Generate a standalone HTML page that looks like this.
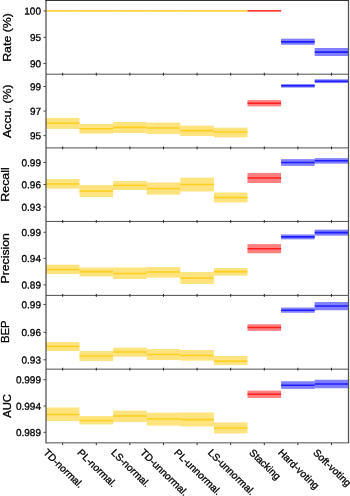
<!DOCTYPE html><html><head><meta charset="utf-8"><title>Ensemble comparison</title><style>html,body{margin:0;padding:0;background:#fff}svg{display:block}text{font-family:"Liberation Sans",Arial,Helvetica,sans-serif;fill:#000;stroke:#000;stroke-width:0.3px}</style></head><body>
<svg width="350" height="496" viewBox="0 0 350 496">
<rect width="350" height="496" fill="#fff"/>
<line x1="45.90" y1="10.90" x2="79.50" y2="10.90" stroke="#FFC800" stroke-opacity="0.76" stroke-width="1.6"/>
<line x1="79.50" y1="10.90" x2="113.10" y2="10.90" stroke="#FFC800" stroke-opacity="0.76" stroke-width="1.6"/>
<line x1="113.10" y1="10.90" x2="146.70" y2="10.90" stroke="#FFC800" stroke-opacity="0.76" stroke-width="1.6"/>
<line x1="146.70" y1="10.90" x2="180.30" y2="10.90" stroke="#FFC800" stroke-opacity="0.76" stroke-width="1.6"/>
<line x1="180.30" y1="10.90" x2="213.90" y2="10.90" stroke="#FFC800" stroke-opacity="0.76" stroke-width="1.6"/>
<line x1="213.90" y1="10.90" x2="247.50" y2="10.90" stroke="#FFC800" stroke-opacity="0.76" stroke-width="1.6"/>
<line x1="247.50" y1="10.90" x2="281.10" y2="10.90" stroke="#FF0000" stroke-opacity="0.76" stroke-width="1.6"/>
<rect x="281.10" y="38.70" width="33.60" height="6.10" fill="#0000FF" fill-opacity="0.5"/>
<line x1="281.10" y1="41.85" x2="314.70" y2="41.85" stroke="#0000FF" stroke-opacity="0.76" stroke-width="1.6"/>
<rect x="314.70" y="48.00" width="33.60" height="8.00" fill="#0000FF" fill-opacity="0.5"/>
<line x1="314.70" y1="52.10" x2="348.30" y2="52.10" stroke="#0000FF" stroke-opacity="0.76" stroke-width="1.6"/>
<rect x="45.90" y="117.80" width="33.60" height="11.10" fill="#FFC800" fill-opacity="0.5"/>
<line x1="45.90" y1="123.30" x2="79.50" y2="123.30" stroke="#FFC800" stroke-opacity="0.76" stroke-width="1.6"/>
<rect x="79.50" y="124.00" width="33.60" height="9.60" fill="#FFC800" fill-opacity="0.5"/>
<line x1="79.50" y1="128.70" x2="113.10" y2="128.70" stroke="#FFC800" stroke-opacity="0.76" stroke-width="1.6"/>
<rect x="113.10" y="122.00" width="33.60" height="11.00" fill="#FFC800" fill-opacity="0.5"/>
<line x1="113.10" y1="127.40" x2="146.70" y2="127.40" stroke="#FFC800" stroke-opacity="0.76" stroke-width="1.6"/>
<rect x="146.70" y="122.60" width="33.60" height="11.40" fill="#FFC800" fill-opacity="0.5"/>
<line x1="146.70" y1="128.00" x2="180.30" y2="128.00" stroke="#FFC800" stroke-opacity="0.76" stroke-width="1.6"/>
<rect x="180.30" y="125.60" width="33.60" height="10.40" fill="#FFC800" fill-opacity="0.5"/>
<line x1="180.30" y1="130.60" x2="213.90" y2="130.60" stroke="#FFC800" stroke-opacity="0.76" stroke-width="1.6"/>
<rect x="213.90" y="127.60" width="33.60" height="9.80" fill="#FFC800" fill-opacity="0.5"/>
<line x1="213.90" y1="132.00" x2="247.50" y2="132.00" stroke="#FFC800" stroke-opacity="0.76" stroke-width="1.6"/>
<rect x="247.50" y="100.10" width="33.60" height="6.20" fill="#FF0000" fill-opacity="0.5"/>
<line x1="247.50" y1="103.30" x2="281.10" y2="103.30" stroke="#FF0000" stroke-opacity="0.76" stroke-width="1.6"/>
<rect x="281.10" y="84.10" width="33.60" height="3.50" fill="#0000FF" fill-opacity="0.5"/>
<line x1="281.10" y1="85.80" x2="314.70" y2="85.80" stroke="#0000FF" stroke-opacity="0.76" stroke-width="1.6"/>
<rect x="314.70" y="79.30" width="33.60" height="3.80" fill="#0000FF" fill-opacity="0.5"/>
<line x1="314.70" y1="81.20" x2="348.30" y2="81.20" stroke="#0000FF" stroke-opacity="0.76" stroke-width="1.6"/>
<rect x="45.90" y="179.05" width="33.60" height="9.60" fill="#FFC800" fill-opacity="0.5"/>
<line x1="45.90" y1="184.05" x2="79.50" y2="184.05" stroke="#FFC800" stroke-opacity="0.76" stroke-width="1.6"/>
<rect x="79.50" y="185.05" width="33.60" height="12.00" fill="#FFC800" fill-opacity="0.5"/>
<line x1="79.50" y1="191.05" x2="113.10" y2="191.05" stroke="#FFC800" stroke-opacity="0.76" stroke-width="1.6"/>
<rect x="113.10" y="181.05" width="33.60" height="9.00" fill="#FFC800" fill-opacity="0.5"/>
<line x1="113.10" y1="185.45" x2="146.70" y2="185.45" stroke="#FFC800" stroke-opacity="0.76" stroke-width="1.6"/>
<rect x="146.70" y="182.45" width="33.60" height="12.20" fill="#FFC800" fill-opacity="0.5"/>
<line x1="146.70" y1="188.45" x2="180.30" y2="188.45" stroke="#FFC800" stroke-opacity="0.76" stroke-width="1.6"/>
<rect x="180.30" y="177.65" width="33.60" height="13.80" fill="#FFC800" fill-opacity="0.5"/>
<line x1="180.30" y1="184.45" x2="213.90" y2="184.45" stroke="#FFC800" stroke-opacity="0.76" stroke-width="1.6"/>
<rect x="213.90" y="192.45" width="33.60" height="10.00" fill="#FFC800" fill-opacity="0.5"/>
<line x1="213.90" y1="197.45" x2="247.50" y2="197.45" stroke="#FFC800" stroke-opacity="0.76" stroke-width="1.6"/>
<rect x="247.50" y="172.95" width="33.60" height="10.00" fill="#FF0000" fill-opacity="0.5"/>
<line x1="247.50" y1="178.05" x2="281.10" y2="178.05" stroke="#FF0000" stroke-opacity="0.76" stroke-width="1.6"/>
<rect x="281.10" y="159.15" width="33.60" height="6.70" fill="#0000FF" fill-opacity="0.5"/>
<line x1="281.10" y1="162.55" x2="314.70" y2="162.55" stroke="#0000FF" stroke-opacity="0.76" stroke-width="1.6"/>
<rect x="314.70" y="158.15" width="33.60" height="5.50" fill="#0000FF" fill-opacity="0.5"/>
<line x1="314.70" y1="160.75" x2="348.30" y2="160.75" stroke="#0000FF" stroke-opacity="0.76" stroke-width="1.6"/>
<rect x="45.90" y="264.65" width="33.60" height="9.40" fill="#FFC800" fill-opacity="0.5"/>
<line x1="45.90" y1="269.45" x2="79.50" y2="269.45" stroke="#FFC800" stroke-opacity="0.76" stroke-width="1.6"/>
<rect x="79.50" y="267.45" width="33.60" height="9.00" fill="#FFC800" fill-opacity="0.5"/>
<line x1="79.50" y1="271.65" x2="113.10" y2="271.65" stroke="#FFC800" stroke-opacity="0.76" stroke-width="1.6"/>
<rect x="113.10" y="267.45" width="33.60" height="11.60" fill="#FFC800" fill-opacity="0.5"/>
<line x1="113.10" y1="273.45" x2="146.70" y2="273.45" stroke="#FFC800" stroke-opacity="0.76" stroke-width="1.6"/>
<rect x="146.70" y="267.05" width="33.60" height="10.60" fill="#FFC800" fill-opacity="0.5"/>
<line x1="146.70" y1="272.05" x2="180.30" y2="272.05" stroke="#FFC800" stroke-opacity="0.76" stroke-width="1.6"/>
<rect x="180.30" y="272.05" width="33.60" height="12.00" fill="#FFC800" fill-opacity="0.5"/>
<line x1="180.30" y1="278.05" x2="213.90" y2="278.05" stroke="#FFC800" stroke-opacity="0.76" stroke-width="1.6"/>
<rect x="213.90" y="268.05" width="33.60" height="7.60" fill="#FFC800" fill-opacity="0.5"/>
<line x1="213.90" y1="271.65" x2="247.50" y2="271.65" stroke="#FFC800" stroke-opacity="0.76" stroke-width="1.6"/>
<rect x="247.50" y="244.15" width="33.60" height="9.10" fill="#FF0000" fill-opacity="0.5"/>
<line x1="247.50" y1="248.75" x2="281.10" y2="248.75" stroke="#FF0000" stroke-opacity="0.76" stroke-width="1.6"/>
<rect x="281.10" y="234.45" width="33.60" height="4.90" fill="#0000FF" fill-opacity="0.5"/>
<line x1="281.10" y1="236.85" x2="314.70" y2="236.85" stroke="#0000FF" stroke-opacity="0.76" stroke-width="1.6"/>
<rect x="314.70" y="229.65" width="33.60" height="6.00" fill="#0000FF" fill-opacity="0.5"/>
<line x1="314.70" y1="232.65" x2="348.30" y2="232.65" stroke="#0000FF" stroke-opacity="0.76" stroke-width="1.6"/>
<rect x="45.90" y="342.05" width="33.60" height="9.00" fill="#FFC800" fill-opacity="0.5"/>
<line x1="45.90" y1="346.45" x2="79.50" y2="346.45" stroke="#FFC800" stroke-opacity="0.76" stroke-width="1.6"/>
<rect x="79.50" y="351.05" width="33.60" height="10.00" fill="#FFC800" fill-opacity="0.5"/>
<line x1="79.50" y1="356.05" x2="113.10" y2="356.05" stroke="#FFC800" stroke-opacity="0.76" stroke-width="1.6"/>
<rect x="113.10" y="347.65" width="33.60" height="9.00" fill="#FFC800" fill-opacity="0.5"/>
<line x1="113.10" y1="352.05" x2="146.70" y2="352.05" stroke="#FFC800" stroke-opacity="0.76" stroke-width="1.6"/>
<rect x="146.70" y="349.05" width="33.60" height="11.00" fill="#FFC800" fill-opacity="0.5"/>
<line x1="146.70" y1="354.45" x2="180.30" y2="354.45" stroke="#FFC800" stroke-opacity="0.76" stroke-width="1.6"/>
<rect x="180.30" y="350.05" width="33.60" height="10.60" fill="#FFC800" fill-opacity="0.5"/>
<line x1="180.30" y1="355.45" x2="213.90" y2="355.45" stroke="#FFC800" stroke-opacity="0.76" stroke-width="1.6"/>
<rect x="213.90" y="356.05" width="33.60" height="9.00" fill="#FFC800" fill-opacity="0.5"/>
<line x1="213.90" y1="361.05" x2="247.50" y2="361.05" stroke="#FFC800" stroke-opacity="0.76" stroke-width="1.6"/>
<rect x="247.50" y="324.25" width="33.60" height="6.60" fill="#FF0000" fill-opacity="0.5"/>
<line x1="247.50" y1="327.55" x2="281.10" y2="327.55" stroke="#FF0000" stroke-opacity="0.76" stroke-width="1.6"/>
<rect x="281.10" y="307.55" width="33.60" height="5.20" fill="#0000FF" fill-opacity="0.5"/>
<line x1="281.10" y1="310.25" x2="314.70" y2="310.25" stroke="#0000FF" stroke-opacity="0.76" stroke-width="1.6"/>
<rect x="314.70" y="302.05" width="33.60" height="8.20" fill="#0000FF" fill-opacity="0.5"/>
<line x1="314.70" y1="306.05" x2="348.30" y2="306.05" stroke="#0000FF" stroke-opacity="0.76" stroke-width="1.6"/>
<rect x="45.90" y="407.45" width="33.60" height="13.60" fill="#FFC800" fill-opacity="0.5"/>
<line x1="45.90" y1="414.45" x2="79.50" y2="414.45" stroke="#FFC800" stroke-opacity="0.76" stroke-width="1.6"/>
<rect x="79.50" y="416.05" width="33.60" height="8.40" fill="#FFC800" fill-opacity="0.5"/>
<line x1="79.50" y1="420.45" x2="113.10" y2="420.45" stroke="#FFC800" stroke-opacity="0.76" stroke-width="1.6"/>
<rect x="113.10" y="410.65" width="33.60" height="11.40" fill="#FFC800" fill-opacity="0.5"/>
<line x1="113.10" y1="416.05" x2="146.70" y2="416.05" stroke="#FFC800" stroke-opacity="0.76" stroke-width="1.6"/>
<rect x="146.70" y="412.65" width="33.60" height="13.00" fill="#FFC800" fill-opacity="0.5"/>
<line x1="146.70" y1="419.05" x2="180.30" y2="419.05" stroke="#FFC800" stroke-opacity="0.76" stroke-width="1.6"/>
<rect x="180.30" y="412.45" width="33.60" height="14.00" fill="#FFC800" fill-opacity="0.5"/>
<line x1="180.30" y1="419.65" x2="213.90" y2="419.65" stroke="#FFC800" stroke-opacity="0.76" stroke-width="1.6"/>
<rect x="213.90" y="422.45" width="33.60" height="11.00" fill="#FFC800" fill-opacity="0.5"/>
<line x1="213.90" y1="428.05" x2="247.50" y2="428.05" stroke="#FFC800" stroke-opacity="0.76" stroke-width="1.6"/>
<rect x="247.50" y="390.65" width="33.60" height="7.30" fill="#FF0000" fill-opacity="0.5"/>
<line x1="247.50" y1="394.25" x2="281.10" y2="394.25" stroke="#FF0000" stroke-opacity="0.76" stroke-width="1.6"/>
<rect x="281.10" y="381.25" width="33.60" height="7.60" fill="#0000FF" fill-opacity="0.5"/>
<line x1="281.10" y1="385.25" x2="314.70" y2="385.25" stroke="#0000FF" stroke-opacity="0.76" stroke-width="1.6"/>
<rect x="314.70" y="379.75" width="33.60" height="8.50" fill="#0000FF" fill-opacity="0.5"/>
<line x1="314.70" y1="383.95" x2="348.30" y2="383.95" stroke="#0000FF" stroke-opacity="0.76" stroke-width="1.6"/>
<g stroke="#505050" stroke-width="1.25" fill="none">
<line x1="46.0" y1="0" x2="46.0" y2="443.35"/>
<line x1="348.5" y1="0" x2="348.5" y2="443.35"/>
</g>
<g stroke="#222" stroke-width="1" fill="none">
<line x1="45.3" y1="0.5" x2="348.90000000000003" y2="0.5" stroke="#333"/>
<line x1="45.9" y1="74.2" x2="348.3" y2="74.2" stroke="#505050"/>
<line x1="45.9" y1="147.9" x2="348.3" y2="147.9" stroke="#505050"/>
<line x1="45.9" y1="221.45" x2="348.3" y2="221.45" stroke="#505050"/>
<line x1="45.9" y1="295.4" x2="348.3" y2="295.4" stroke="#505050"/>
<line x1="45.9" y1="369.15" x2="348.3" y2="369.15" stroke="#505050"/>
<line x1="45.9" y1="442.85" x2="348.3" y2="442.85" stroke="#505050"/>
<line x1="62.70" y1="72.8" x2="62.70" y2="75.60000000000001" stroke="#222"/>
<line x1="96.30" y1="72.8" x2="96.30" y2="75.60000000000001" stroke="#222"/>
<line x1="129.90" y1="72.8" x2="129.90" y2="75.60000000000001" stroke="#222"/>
<line x1="163.50" y1="72.8" x2="163.50" y2="75.60000000000001" stroke="#222"/>
<line x1="197.10" y1="72.8" x2="197.10" y2="75.60000000000001" stroke="#222"/>
<line x1="230.70" y1="72.8" x2="230.70" y2="75.60000000000001" stroke="#222"/>
<line x1="264.30" y1="72.8" x2="264.30" y2="75.60000000000001" stroke="#222"/>
<line x1="297.90" y1="72.8" x2="297.90" y2="75.60000000000001" stroke="#222"/>
<line x1="331.50" y1="72.8" x2="331.50" y2="75.60000000000001" stroke="#222"/>
<line x1="62.70" y1="146.5" x2="62.70" y2="149.3" stroke="#222"/>
<line x1="96.30" y1="146.5" x2="96.30" y2="149.3" stroke="#222"/>
<line x1="129.90" y1="146.5" x2="129.90" y2="149.3" stroke="#222"/>
<line x1="163.50" y1="146.5" x2="163.50" y2="149.3" stroke="#222"/>
<line x1="197.10" y1="146.5" x2="197.10" y2="149.3" stroke="#222"/>
<line x1="230.70" y1="146.5" x2="230.70" y2="149.3" stroke="#222"/>
<line x1="264.30" y1="146.5" x2="264.30" y2="149.3" stroke="#222"/>
<line x1="297.90" y1="146.5" x2="297.90" y2="149.3" stroke="#222"/>
<line x1="331.50" y1="146.5" x2="331.50" y2="149.3" stroke="#222"/>
<line x1="62.70" y1="220.04999999999998" x2="62.70" y2="222.85" stroke="#222"/>
<line x1="96.30" y1="220.04999999999998" x2="96.30" y2="222.85" stroke="#222"/>
<line x1="129.90" y1="220.04999999999998" x2="129.90" y2="222.85" stroke="#222"/>
<line x1="163.50" y1="220.04999999999998" x2="163.50" y2="222.85" stroke="#222"/>
<line x1="197.10" y1="220.04999999999998" x2="197.10" y2="222.85" stroke="#222"/>
<line x1="230.70" y1="220.04999999999998" x2="230.70" y2="222.85" stroke="#222"/>
<line x1="264.30" y1="220.04999999999998" x2="264.30" y2="222.85" stroke="#222"/>
<line x1="297.90" y1="220.04999999999998" x2="297.90" y2="222.85" stroke="#222"/>
<line x1="331.50" y1="220.04999999999998" x2="331.50" y2="222.85" stroke="#222"/>
<line x1="62.70" y1="294.0" x2="62.70" y2="296.79999999999995" stroke="#222"/>
<line x1="96.30" y1="294.0" x2="96.30" y2="296.79999999999995" stroke="#222"/>
<line x1="129.90" y1="294.0" x2="129.90" y2="296.79999999999995" stroke="#222"/>
<line x1="163.50" y1="294.0" x2="163.50" y2="296.79999999999995" stroke="#222"/>
<line x1="197.10" y1="294.0" x2="197.10" y2="296.79999999999995" stroke="#222"/>
<line x1="230.70" y1="294.0" x2="230.70" y2="296.79999999999995" stroke="#222"/>
<line x1="264.30" y1="294.0" x2="264.30" y2="296.79999999999995" stroke="#222"/>
<line x1="297.90" y1="294.0" x2="297.90" y2="296.79999999999995" stroke="#222"/>
<line x1="331.50" y1="294.0" x2="331.50" y2="296.79999999999995" stroke="#222"/>
<line x1="62.70" y1="367.75" x2="62.70" y2="370.54999999999995" stroke="#222"/>
<line x1="96.30" y1="367.75" x2="96.30" y2="370.54999999999995" stroke="#222"/>
<line x1="129.90" y1="367.75" x2="129.90" y2="370.54999999999995" stroke="#222"/>
<line x1="163.50" y1="367.75" x2="163.50" y2="370.54999999999995" stroke="#222"/>
<line x1="197.10" y1="367.75" x2="197.10" y2="370.54999999999995" stroke="#222"/>
<line x1="230.70" y1="367.75" x2="230.70" y2="370.54999999999995" stroke="#222"/>
<line x1="264.30" y1="367.75" x2="264.30" y2="370.54999999999995" stroke="#222"/>
<line x1="297.90" y1="367.75" x2="297.90" y2="370.54999999999995" stroke="#222"/>
<line x1="331.50" y1="367.75" x2="331.50" y2="370.54999999999995" stroke="#222"/>
<line x1="62.70" y1="442.85" x2="62.70" y2="445.15000000000003" stroke="#333"/>
<line x1="96.30" y1="442.85" x2="96.30" y2="445.15000000000003" stroke="#333"/>
<line x1="129.90" y1="442.85" x2="129.90" y2="445.15000000000003" stroke="#333"/>
<line x1="163.50" y1="442.85" x2="163.50" y2="445.15000000000003" stroke="#333"/>
<line x1="197.10" y1="442.85" x2="197.10" y2="445.15000000000003" stroke="#333"/>
<line x1="230.70" y1="442.85" x2="230.70" y2="445.15000000000003" stroke="#333"/>
<line x1="264.30" y1="442.85" x2="264.30" y2="445.15000000000003" stroke="#333"/>
<line x1="297.90" y1="442.85" x2="297.90" y2="445.15000000000003" stroke="#333"/>
<line x1="331.50" y1="442.85" x2="331.50" y2="445.15000000000003" stroke="#333"/>
<line x1="43.5" y1="10.9" x2="45.9" y2="10.9" stroke="#333" stroke-width="0.9"/>
<line x1="43.5" y1="37.3" x2="45.9" y2="37.3" stroke="#333" stroke-width="0.9"/>
<line x1="43.5" y1="63.5" x2="45.9" y2="63.5" stroke="#333" stroke-width="0.9"/>
<line x1="43.5" y1="86.5" x2="45.9" y2="86.5" stroke="#333" stroke-width="0.9"/>
<line x1="43.5" y1="111.1" x2="45.9" y2="111.1" stroke="#333" stroke-width="0.9"/>
<line x1="43.5" y1="135.6" x2="45.9" y2="135.6" stroke="#333" stroke-width="0.9"/>
<line x1="43.5" y1="162.5" x2="45.9" y2="162.5" stroke="#333" stroke-width="0.9"/>
<line x1="43.5" y1="184.5" x2="45.9" y2="184.5" stroke="#333" stroke-width="0.9"/>
<line x1="43.5" y1="207.0" x2="45.9" y2="207.0" stroke="#333" stroke-width="0.9"/>
<line x1="43.5" y1="232.25" x2="45.9" y2="232.25" stroke="#333" stroke-width="0.9"/>
<line x1="43.5" y1="258.4" x2="45.9" y2="258.4" stroke="#333" stroke-width="0.9"/>
<line x1="43.5" y1="284.9" x2="45.9" y2="284.9" stroke="#333" stroke-width="0.9"/>
<line x1="43.5" y1="304.5" x2="45.9" y2="304.5" stroke="#333" stroke-width="0.9"/>
<line x1="43.5" y1="332.3" x2="45.9" y2="332.3" stroke="#333" stroke-width="0.9"/>
<line x1="43.5" y1="359.8" x2="45.9" y2="359.8" stroke="#333" stroke-width="0.9"/>
<line x1="43.5" y1="379.7" x2="45.9" y2="379.7" stroke="#333" stroke-width="0.9"/>
<line x1="43.5" y1="406.0" x2="45.9" y2="406.0" stroke="#333" stroke-width="0.9"/>
<line x1="43.5" y1="432.3" x2="45.9" y2="432.3" stroke="#333" stroke-width="0.9"/>
</g>
<g font-size="10" text-anchor="end" style="stroke-width:0.08px">
<text transform="translate(41.0,14.55) rotate(0.05)">100</text>
<text transform="translate(41.0,40.95) rotate(0.05)">95</text>
<text transform="translate(41.0,67.15) rotate(0.05)">90</text>
<text transform="translate(41.0,90.15) rotate(0.05)">99</text>
<text transform="translate(41.0,114.75) rotate(0.05)">97</text>
<text transform="translate(41.0,139.25) rotate(0.05)">95</text>
<text transform="translate(41.0,166.15) rotate(0.05)">0.99</text>
<text transform="translate(41.0,188.15) rotate(0.05)">0.96</text>
<text transform="translate(41.0,210.65) rotate(0.05)">0.93</text>
<text transform="translate(41.0,235.90) rotate(0.05)">0.99</text>
<text transform="translate(41.0,262.05) rotate(0.05)">0.94</text>
<text transform="translate(41.0,288.55) rotate(0.05)">0.89</text>
<text transform="translate(41.0,308.15) rotate(0.05)">0.99</text>
<text transform="translate(41.0,335.95) rotate(0.05)">0.96</text>
<text transform="translate(41.0,363.45) rotate(0.05)">0.93</text>
<text transform="translate(41.0,383.35) rotate(0.05)">0.999</text>
<text transform="translate(41.0,409.65) rotate(0.05)">0.994</text>
<text transform="translate(41.0,435.95) rotate(0.05)">0.989</text>
</g>
<g font-size="12.4" text-anchor="middle">
<text class="yl" font-size="11.8" transform="translate(10.6,37.5) rotate(-90) scale(1.0424,1)">Rate (%)</text>
<text class="yl" font-size="11.8" transform="translate(10.9,111.2) rotate(-90) scale(1.0508,1)">Accu. (%)</text>
<text class="yl" font-size="11.8" transform="translate(8.9,184.5) rotate(-90) scale(1.0508,1)">Recall</text>
<text class="yl" font-size="11.8" transform="translate(8.7,258.3) rotate(-90) scale(1.0339,1)">Precision</text>
<text class="yl" font-size="11.8" transform="translate(9.1,331.7) rotate(-90) scale(0.9576,1)">BEP</text>
<text class="yl" font-size="11.8" transform="translate(10.5,405.9) rotate(-90) scale(0.9576,1)">AUC</text>
</g>
<g font-size="10" text-anchor="middle">
<text class="xl" transform="translate(63.60,468.37) scale(1.03,1) rotate(45)" dy="0.36em">TD-normal.</text>
<text class="xl" transform="translate(97.20,467.97) scale(1.03,1) rotate(45)" dy="0.36em">PL-normal.</text>
<text class="xl" transform="translate(130.80,467.97) scale(1.03,1) rotate(45)" dy="0.36em">LS-normal.</text>
<text class="xl" transform="translate(164.40,472.30) scale(1.03,1) rotate(45)" dy="0.36em">TD-unnormal.</text>
<text class="xl" transform="translate(198.00,471.91) scale(1.03,1) rotate(45)" dy="0.36em">PL-unnormal.</text>
<text class="xl" transform="translate(231.60,471.91) scale(1.03,1) rotate(45)" dy="0.36em">LS-unnormal.</text>
<text class="xl" transform="translate(265.20,464.24) scale(1.03,1) rotate(45)" dy="0.36em">Stacking</text>
<text class="xl" transform="translate(298.80,468.96) scale(1.03,1) rotate(45)" dy="0.36em">Hard-voting</text>
<text class="xl" transform="translate(332.40,467.58) scale(1.03,1) rotate(45)" dy="0.36em">Soft-voting</text>
</g>
</svg></body></html>
